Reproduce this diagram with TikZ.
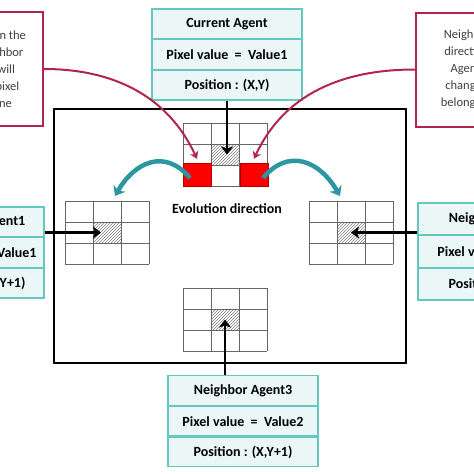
\documentclass[tikz,border=0pt]{standalone}
\usepackage{fontspec}
\setmainfont{Carlito}
\usetikzlibrary{arrows.meta,patterns,positioning}
\definecolor{boxline}{RGB}{100,200,192}
\definecolor{boxfill}{RGB}{234,247,246}
\definecolor{noteline}{RGB}{176,38,74}
\definecolor{notetext}{RGB}{64,64,64}
\definecolor{evoarrow}{RGB}{44,150,163}

\begin{document}
\begin{tikzpicture}[x=1pt,y=1pt,
        agentrow/.style={draw=boxline,fill=boxfill,line width=1.2pt,minimum width=150pt,minimum height=29.5pt,inner sep=0pt,font=\bfseries\fontsize{14}{16}\selectfont},
        note/.style={draw=noteline,fill=white,line width=2pt,minimum width=125pt,minimum height=114pt,align=center,text=notetext,font=\fontsize{12.5}{17}\selectfont},
        cellline/.style={draw=gray!80!black,line width=0.6pt},
        hatchcell/.style={pattern=north east lines,pattern color=gray,draw=gray,minimum width=28pt,minimum height=21pt,inner sep=0pt},
        redcell/.style={fill=red,draw=red!70!black,line width=0.4pt,minimum width=28pt,minimum height=23pt,inner sep=0pt},
        push/.style={line width=2.4pt,-{Stealth[length=8pt,width=12pt,inset=2pt]}},
        hint/.style={noteline,line width=2pt,-{Stealth[length=7pt,width=9pt,inset=2pt]}},
        move/.style={evoarrow,line width=4.5pt,-{Stealth[length=9pt,width=14pt]}}]
    \clip (0,0) rectangle (474,-474);

    \draw[line width=1.2pt] (54,-109) rectangle (406,-363);

    \foreach \gx/\gy/\gn in {183/123/top,65/201/left,309/201/right,183/288/bot}{
        \begin{scope}[shift={(\gx,-\gy)}]
            \node[hatchcell] (\gn-c) at (42,-31.5) {};
            \draw[cellline] (0,-63) grid[xstep=28,ystep=21] (84,0);
            \coordinate (\gn-t) at (42,0);
        \end{scope}
    }
    \node[redcell] (redL) at (197,-174.5) {};
    \node[redcell] (redR) at (254,-174.5) {};

    \node[font=\bfseries\fontsize{14}{16}\selectfont] (evo) at (227,-209) {Evolution direction};

    \node[agentrow] (cur1) at (227,-23.75) {Current Agent};
    \node[agentrow,below=0pt of cur1] (cur2) {Pixel value\ \ =\ \ Value1};
    \node[agentrow,below=0pt of cur2] (cur3) {Position : (X,Y)};

    \node[agentrow,minimum width=136pt] (nbL1) at (-24,-221.75) {Neighbor Agent1};
    \node[agentrow,minimum width=136pt,below=0pt of nbL1] (nbL2) {Pixel value\ \ =\ \ Value1};
    \node[agentrow,minimum width=136pt,below=0pt of nbL2] (nbL3) {Position : (X,Y+1)};

    \node[agentrow,minimum width=160pt,minimum height=31.5pt] (nbR1) at (498,-218.75) {Neighbor Agent2};
    \node[agentrow,minimum width=160pt,minimum height=31.5pt,below=0pt of nbR1] (nbR2) {Pixel value\ \ =\ \ Value1};
    \node[agentrow,minimum width=160pt,minimum height=31.5pt,below=0pt of nbR2] (nbR3) {Position : (X+1,Y)};

    \node[agentrow] (nbB1) at (243,-390.5) {Neighbor Agent3};
    \node[agentrow,below=0pt of nbB1] (nbB2) {Pixel value\ \ =\ \ Value2};
    \node[agentrow,below=0pt of nbB2] (nbB3) {Position : (X,Y+1)};

    \node[note] (noteL) at (-19.5,-69) {Depending on the\\current neighbor\\the agent will\\change its pixel\\value to one};
    \node[note,minimum width=135pt] (noteR) at (483.5,-69.5) {Neighbor in the\\direction of the\\Agent will be\\changed to the\\belonging region};

    \draw[push] (cur3.south) -- (cur3.south |- top-c);
    \draw[push] (left-c -| nbL1.east) -- ([xshift=-6pt]left-c.center);
    \draw[push] (right-c -| nbR1.west) -- (right-c.center);
    \draw[push] (bot-c |- nbB1.north) -- (bot-c.center);

    \draw[hint] (noteL.east) to[out=0,in=115] ([yshift=4pt]redL.north);
    \draw[hint] (noteR.west) to[out=180,in=65] ([yshift=4pt]redR.north);

    \draw[move] ([shift={(-7pt,-3.5pt)}]redL.center) to[out=130,in=60,looseness=1.3] ([shift={(8pt,5pt)}]left-t);
    \draw[move] ([shift={(9pt,-3.5pt)}]redR.center) to[out=50,in=120,looseness=1.3] ([shift={(-11pt,5pt)}]right-t);
\end{tikzpicture}
\end{document}
